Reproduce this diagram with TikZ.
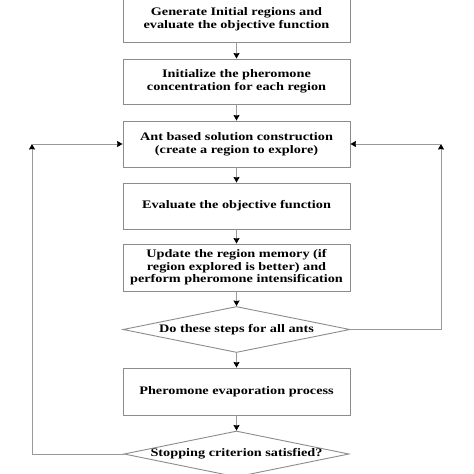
\documentclass[tikz,border=0pt]{standalone}
\usepackage{fontspec}
\newfontfamily\labfont[FakeStretch=1.24]{Liberation Serif}
\usetikzlibrary{shapes.geometric,arrows.meta}
\begin{document}
\begin{tikzpicture}[x=1pt,y=1pt,
  every node/.style={font=\labfont\bfseries\fontsize{11.5}{12.6}\selectfont, text=black, align=center},
  stepbox/.style={draw=black!45, line width=0.9pt, minimum width=227pt, inner sep=0pt, fill=white},
  decision/.style={diamond, draw=black!45, line width=0.9pt, minimum width=227pt, minimum height=46pt, aspect=4.9, inner sep=0pt, fill=white},
  arr/.style={draw=black!40, line width=0.9pt, -{Stealth[length=5.5pt,width=6pt,inset=0.5pt,color=black]}},
  plain/.style={draw=black!40, line width=0.9pt}]
\useasboundingbox (0,0) rectangle (474,-474);
\fill[white] (0,0) rectangle (474,-474);
\node[stepbox, minimum height=45pt] (b1) at (236.5,-19.5) {Generate Initial regions and\\evaluate the objective function};
\node[stepbox, minimum height=45pt] (b2) at (236.5,-81.5) {Initialize the pheromone\\concentration for each region};
\node[stepbox, minimum height=46pt] (b3) at (236.5,-144) {Ant based solution construction\\(create a region to explore)};
\node[stepbox, minimum height=46pt] (b4) at (236.5,-206) {Evaluate the objective function};
\node[stepbox, minimum height=47pt] (b5) at (236.5,-267.5) {Update the region memory (if\\region explored is better) and\\perform pheromone intensification};
\node[decision] (d1) at (236.5,-329.5) {Do these steps for all ants};
\node[stepbox, minimum height=47pt] (b6) at (236.5,-391.5) {Pheromone evaporation process};
\node[decision, minimum width=225pt] (d2) at (236.5,-454) {Stopping criterion satisfied?};
\coordinate (cl) at (32,-144);
\coordinate (cr) at (441,-144);
\draw[arr] (b1) -- (b2);
\draw[arr] (b2) -- (b3);
\draw[arr] (b3) -- (b4);
\draw[arr] (b4) -- (b5);
\draw[arr] (b5) -- (d1);
\draw[arr] (d1) -- (b6);
\draw[arr] (b6) -- (d2);
\draw[arr] (d2.west) -| (cl);
\draw[arr] (cl) -- (b3.west);
\draw[arr] (d1.east) -| (cr);
\draw[arr] (cr) -- (b3.east);
\end{tikzpicture}
\end{document}
